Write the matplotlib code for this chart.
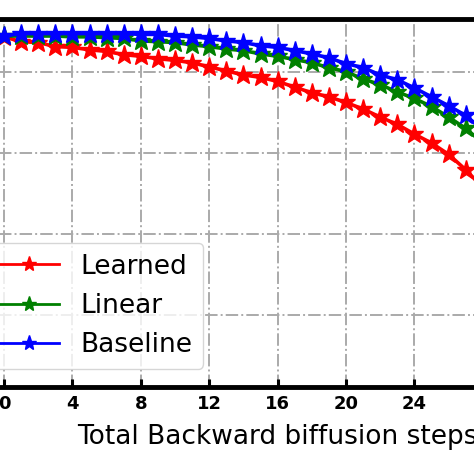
import matplotlib
matplotlib.use("Agg")
import matplotlib.pyplot as plt

steps = list(range(0, 29))
learned = [0.943, 0.937, 0.936, 0.931, 0.930, 0.927, 0.925, 0.921, 0.919, 0.916,
           0.914, 0.911, 0.906, 0.901, 0.896, 0.893, 0.888, 0.881, 0.874, 0.869,
           0.862, 0.854, 0.844, 0.835, 0.823, 0.812, 0.798, 0.779, 0.757]
linear = [0.944, 0.944, 0.944, 0.944, 0.943, 0.943, 0.942, 0.941, 0.938, 0.937,
          0.936, 0.933, 0.931, 0.928, 0.926, 0.922, 0.919, 0.915, 0.911, 0.905,
          0.900, 0.891, 0.884, 0.875, 0.867, 0.857, 0.844, 0.830, 0.812]
baseline = [0.944, 0.947, 0.947, 0.947, 0.947, 0.947, 0.947, 0.947, 0.946, 0.946,
            0.944, 0.943, 0.941, 0.938, 0.936, 0.932, 0.930, 0.926, 0.922, 0.917,
            0.910, 0.905, 0.896, 0.890, 0.880, 0.869, 0.858, 0.846, 0.828]
xticks = [0, 4, 8, 12, 16, 20, 24]
yticks = [0.6, 0.7, 0.8, 0.9]

W = 474
fig = plt.figure(figsize=(4.74, 4.74), dpi=100)
px = 17.1
left_px = 4 - px * 1.0
width_px = px * 32
ax = fig.add_axes([left_px / W, (W - 387) / W, width_px / W, (387 - 19) / W])

ax.plot(steps, learned, color="red", marker="*", markersize=14, linewidth=2.6, label="Learned")
ax.plot(steps, linear, color="green", marker="*", markersize=14, linewidth=2.6, label="Linear")
ax.plot(steps, baseline, color="blue", marker="*", markersize=14, linewidth=2.6, label="Baseline")

ax.set_xlim(-1, 31)
ax.set_ylim(0.511, 0.965)
ax.set_xticks(xticks)
ax.set_yticks(yticks)
ax.grid(True, color="#aaaaaa", linestyle="-.", linewidth=1.4)
for s in ax.spines.values():
    s.set_linewidth(3.5)
ax.tick_params(direction="in", length=6, width=2.2, pad=6)
for lab in ax.get_xticklabels() + ax.get_yticklabels():
    lab.set_fontsize(13)
    lab.set_fontweight("bold")

ax.set_xlabel("Total Backward biffusion steps", fontsize=19, ha="left", va="top")
ax.xaxis.set_label_coords((77 - left_px) / width_px, -(424 - 387) / (387 - 19))

leg = ax.legend(loc="upper right", bbox_to_anchor=(203 / W, (W - 243) / W),
                bbox_transform=fig.transFigure, borderaxespad=0, fontsize=19,
                labelspacing=0.5, handletextpad=0.8, handlelength=2.3)
for ln in leg.get_lines():
    ln.set_linewidth(2.0)
    ln.set_markersize(11)

fig.savefig("out.png", dpi=100)
